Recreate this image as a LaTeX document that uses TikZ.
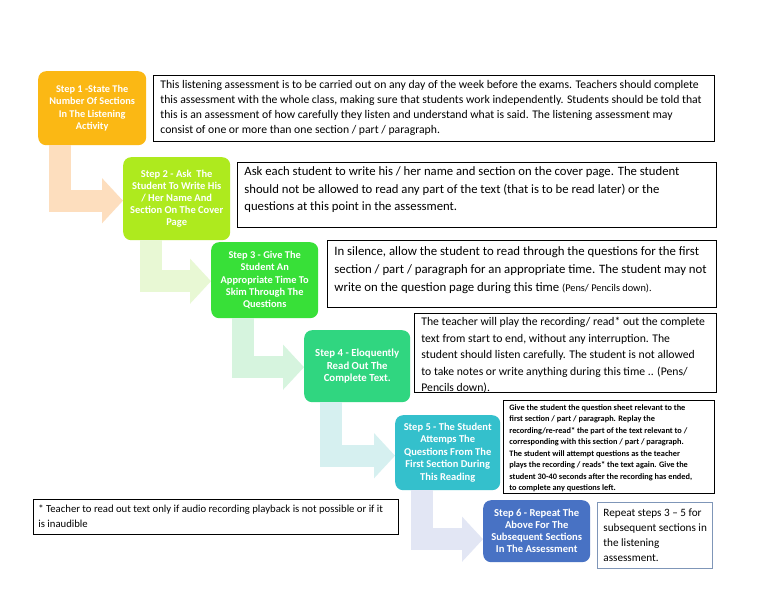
\documentclass[tikz,border=0pt]{standalone}
\usepackage{fontspec}
\setmainfont{Carlito}
\usetikzlibrary{arrows.meta,calc}
\definecolor{c1}{HTML}{FBB814}
\definecolor{a1}{HTML}{FDDEBE}
\definecolor{c2}{HTML}{AEEA1E}
\definecolor{a2}{HTML}{E8F8D4}
\definecolor{c3}{HTML}{38E038}
\definecolor{a3}{HTML}{D6F4DE}
\definecolor{c4}{HTML}{30D680}
\definecolor{a4}{HTML}{D6F0F0}
\definecolor{c5}{HTML}{34C0CC}
\definecolor{a5}{HTML}{E2E6F4}
\definecolor{c6}{HTML}{4872C4}
\definecolor{b6}{HTML}{7F96B8}
\newcommand{\tbtext}[4]{\parbox[c][#2][t]{#1}{#3\begin{tabular}{@{}l@{}}#4\end{tabular}}}
\begin{document}
\begin{tikzpicture}[x=1pt,y=-1pt,
 stepbox/.style={rounded corners=8pt, text=white, align=center, inner sep=0pt, anchor=north west},
 tbox/.style={draw=black, line width=0.8pt, anchor=north west, inner xsep=7pt, inner ysep=3pt},
 flow/.style={line width=22pt, line join=miter, -{Triangle[width=44pt,length=21pt]}},
]
\useasboundingbox[fill=white] (0,0) rectangle (768,594);

% step boxes
\node[stepbox, fill=c1, minimum width=108pt, minimum height=74pt, font=\fontsize{10.3}{12.3}\selectfont\bfseries] (s1) at (38,71)
  {Step 1 -State The\\Number Of Sections\\In The Listening\\Activity};
\node[stepbox, fill=c2, minimum width=107pt, minimum height=83pt, font=\fontsize{10.5}{12.2}\selectfont\bfseries] (s2) at (123,157)
  {Step 2 - Ask\ \ The\\Student To Write His\\/ Her Name And\\Section On The Cover\\Page};
\node[stepbox, fill=c3, minimum width=107pt, minimum height=76pt, font=\fontsize{10.4}{12.2}\selectfont\bfseries] (s3) at (211,242)
  {Step 3 - Give The\\Student An\\Appropriate Time To\\Skim Through The\\Questions};
\node[stepbox, fill=c4, minimum width=106pt, minimum height=72pt, font=\fontsize{10.8}{12.2}\selectfont\bfseries] (s4) at (304,330)
  {Step 4 - Eloquently\\Read Out The\\Complete Text.};
\node[stepbox, fill=c5, minimum width=105pt, minimum height=75pt, font=\fontsize{10.5}{12.5}\selectfont\bfseries] (s5) at (395,415)
  {Step 5 - The Student\\Attemps The\\Questions From The\\First Section During\\This Reading};
\node[stepbox, fill=c6, minimum width=107pt, minimum height=62pt, font=\fontsize{10.6}{12}\selectfont\bfseries] (s6) at (483,500)
  {Step 6 - Repeat The\\Above For The\\Subsequent Sections\\In The Assessment};

% text boxes
\node[tbox] (t1) at (153,75) {\tbtext{547pt}{60pt}{\fontsize{11.7}{15}\selectfont}{%
This listening assessment is to be carried out on any day of the week before the exams. Teachers should complete\\
this assessment with the whole class, making sure that students work independently. Students should be told that\\
this is an assessment of how carefully they listen and understand what is said. The listening assessment may\\
consist of one or more than one section / part / paragraph.}};
\node[tbox, inner ysep=1pt] (t2) at (237,162) {\tbtext{465pt}{63pt}{\fontsize{12.7}{17.5}\selectfont}{%
Ask each student to write his / her name and section on the cover page. The student\\
should not be allowed to read any part of the text (that is to be read later) or the\\
questions at this point in the assessment.}};
\node[tbox, inner ysep=2pt] (t3) at (327,240) {\tbtext{375pt}{63pt}{\fontsize{12.8}{18}\selectfont}{%
In silence, allow the student to read through the questions for the first\\
section / part / paragraph for an appropriate time. The student may not\\
write on the question page during this time {\fontsize{10.3}{18}\selectfont(Pens/ Pencils down).}}};
\node[tbox, inner ysep=1pt] (t4) at (414,313) {\tbtext{288pt}{77pt}{\fontsize{11.7}{16.5}\selectfont}{%
The teacher will play the recording/ read* out the complete\\
text from start to end, without any interruption. The\\
student should listen carefully. The student is not allowed\\
to take notes or write anything during this time .. (Pens/\\
Pencils down).}};
\node[tbox, inner xsep=6pt, inner ysep=2pt] (t5) at (503,400) {\tbtext{199pt}{89pt}{\fontsize{8.3}{11.5}\selectfont\bfseries}{%
Give the student the question sheet relevant to the\\
first section / part / paragraph. Replay the\\
recording/re-read* the part of the text relevant to /\\
corresponding with this section / part / paragraph.\\
The student will attempt questions as the teacher\\
plays the recording / reads* the text again. Give the\\
student 30-40 seconds after the recording has ended,\\
to complete any questions left.}};
\node[tbox, draw=b6, inner xsep=6pt, inner ysep=4pt] (t6) at (597,502) {\tbtext{103pt}{58pt}{\fontsize{11.2}{15}\selectfont}{%
Repeat steps 3 -- 5 for\\subsequent sections in\\the listening\\assessment.}};
\node[tbox, inner xsep=5pt] (fn) at (33,499) {\tbtext{355pt}{29pt}{\fontsize{10.7}{15}\selectfont}{%
* Teacher to read out text only if audio recording playback is not possible or if it\\is inaudible}};

% flow arrows
\draw[flow, draw=a1] ([xshift=22pt]s1.south west) |- ([yshift=-2pt]s2.west);
\draw[flow, draw=a2] ([xshift=28pt]s2.south west) |- ([yshift=-1pt]s3.west);
\draw[flow, draw=a3] ([xshift=32pt]s3.south west) |- ([yshift=-1pt]s4.west);
\draw[flow, draw=a4] ([xshift=27pt]s4.south west) |- ([yshift=-3pt]s5.west);
\draw[flow, draw=a5] ([xshift=27pt]s5.south west) |- ([yshift=-8pt]s6.west);
\end{tikzpicture}
\end{document}
